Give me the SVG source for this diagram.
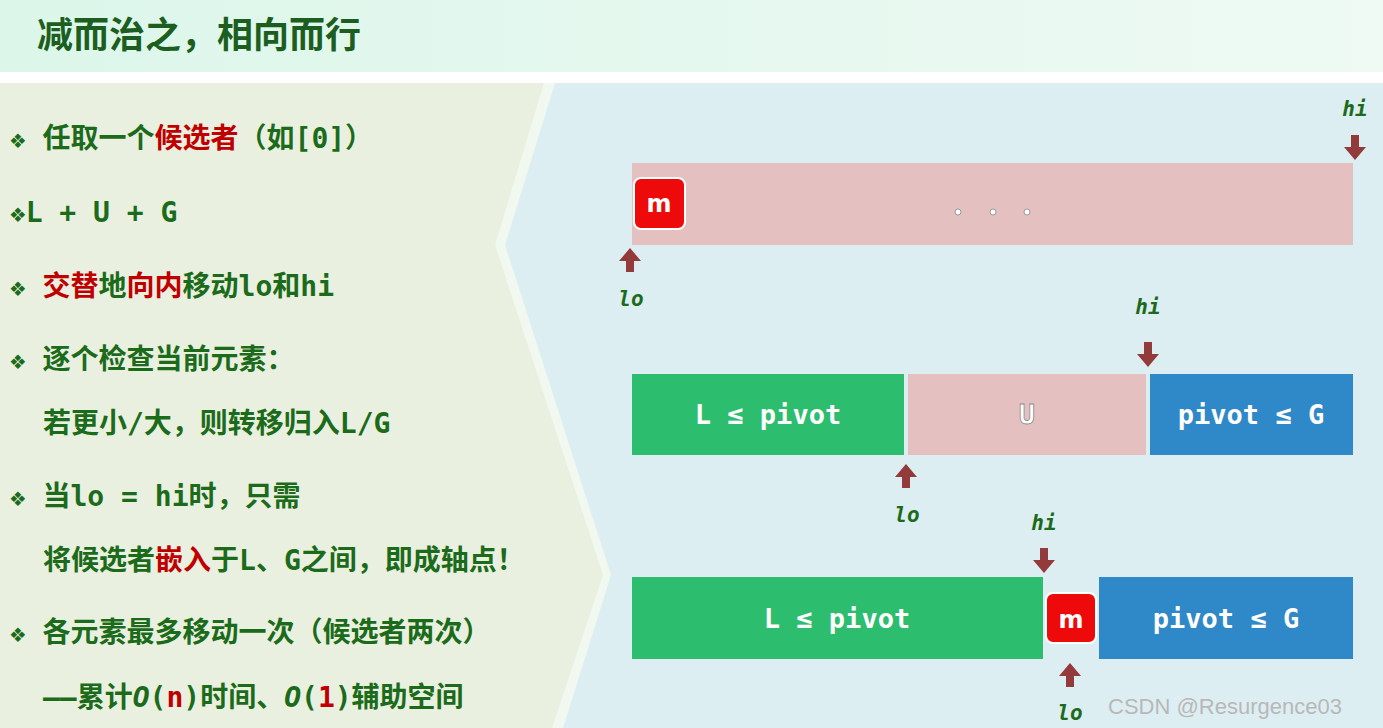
<svg xmlns="http://www.w3.org/2000/svg" width="1383" height="728" viewBox="0 0 1383 728">
<defs>
<linearGradient id="hd" x1="0" x2="1" y1="0" y2="0"><stop offset="0" stop-color="#dcf6ea"/><stop offset="1" stop-color="#eefaf3"/></linearGradient>
<style>
.t{font-family:"DejaVu Sans Mono","Noto Sans CJK SC",monospace;font-weight:bold;font-size:28px;fill:#1b6b1b}
.r{fill:#c00000}
.bl{font-size:26px}
.b{font-family:"DejaVu Sans Mono","Noto Sans CJK SC",monospace;font-weight:bold;font-size:27px;fill:#fff;text-anchor:middle}
.v{font-family:"DejaVu Sans Mono",monospace;font-weight:bold;font-style:italic;font-size:21px;fill:#1b6b1b;text-anchor:middle}
.ar{fill:#933a3a}
.m{fill:#ee0a0a;stroke:#fff;stroke-width:2}
.mt{font-family:"DejaVu Sans",sans-serif;font-weight:bold;font-size:24px;fill:#fff;text-anchor:middle}
</style>
</defs>
<rect width="1383" height="728" fill="#fff"/>
<rect width="1383" height="72" fill="url(#hd)"/>
<text x="37" y="48" font-family="Noto Sans CJK SC,sans-serif" font-weight="bold" font-size="36" fill="#1b5e20">减而治之，相向而行</text>
<rect x="0" y="83" width="1383" height="645" fill="#eaf0e0"/>
<polygon points="544,83 1383,83 1383,728 552,728 603,575 495,245" fill="#f0f8ef"/>
<polygon points="555,83 1383,83 1383,728 563,728 611,575 505,245" fill="#ddeef2"/>
<g id="text">
<text class="t" x="10" y="148"><tspan class="bl">❖</tspan> 任取一个<tspan class="r">候选者</tspan>（如[0]）</text>
<text class="t" x="10" y="222"><tspan class="bl">❖</tspan>L + U + G</text>
<text class="t" x="10" y="296"><tspan class="bl">❖</tspan> <tspan class="r">交替</tspan>地<tspan class="r">向内</tspan>移动lo和hi</text>
<text class="t" x="10" y="369"><tspan class="bl">❖</tspan> 逐个检查当前元素：</text>
<text class="t" x="43" y="433">若更小/大，则转移归入L/G</text>
<text class="t" x="10" y="506"><tspan class="bl">❖</tspan> 当lo = hi时，只需</text>
<text class="t" x="43" y="570">将候选者<tspan class="r">嵌入</tspan>于L、G之间，即成轴点！</text>
<text class="t" x="10" y="642"><tspan class="bl">❖</tspan> 各元素最多移动一次（候选者两次）</text>
<text class="t" x="43" y="707">——累计<tspan font-style="italic">O</tspan>(<tspan class="r">n</tspan>)时间、<tspan font-style="italic">O</tspan>(<tspan class="r">1</tspan>)辅助空间</text>
</g>
<g id="row1">
<rect x="632" y="163" width="721" height="82" fill="#e4c1c0"/>
<rect class="m" x="634" y="178" width="51" height="51" rx="7"/>
<text class="mt" x="659" y="212">m</text>
<g fill="#fff" stroke="#999" stroke-width="1"><circle cx="958" cy="212" r="3"/><circle cx="993" cy="212" r="3"/><circle cx="1027" cy="212" r="3"/></g>
</g>
<g id="row2">
<rect x="632" y="374" width="272" height="81" fill="#2dbd6e"/>
<text class="b" x="768" y="424">L ≤ pivot</text>
<rect x="908" y="374" width="238" height="81" fill="#e4c1c0"/>
<text class="b" x="1027" y="424" stroke="#888" stroke-width="0.8">U</text>
<rect x="1150" y="374" width="203" height="81" fill="#2f88c8"/>
<text class="b" x="1251" y="424">pivot ≤ G</text>
</g>
<g id="row3">
<rect x="632" y="577" width="411" height="82" fill="#2dbd6e"/>
<text class="b" x="837" y="628">L ≤ pivot</text>
<rect class="m" x="1046" y="593" width="50" height="50" rx="7"/>
<text class="mt" x="1071" y="628">m</text>
<rect x="1099" y="577" width="254" height="82" fill="#2f88c8"/>
<text class="b" x="1226" y="628">pivot ≤ G</text>
</g>
<g id="connectors">
<path class="ar" d="M1351,135h8v12h7l-11,13l-11,-13h7z"/>
<path class="ar" d="M626,272v-11h-7l11,-13l11,13h-7v11z"/>
<path class="ar" d="M1144,342h8v12h7l-11,13l-11,-13h7z"/>
<path class="ar" d="M902,488v-11h-7l11,-13l11,13h-7v11z"/>
<path class="ar" d="M1040,548h8v12h7l-11,13l-11,-13h7z"/>
<path class="ar" d="M1066,687v-11h-7l11,-13l11,13h-7v11z"/>
</g>
<g id="labels">
<text class="v" x="1355" y="116">hi</text>
<text class="v" x="631" y="306">lo</text>
<text class="v" x="1148" y="314">hi</text>
<text class="v" x="907" y="522">lo</text>
<text class="v" x="1044" y="530">hi</text>
<text class="v" x="1070" y="720">lo</text>
</g>
<text x="1108" y="714" font-family="Liberation Sans,sans-serif" font-size="22" fill="#b8b8b8">CSDN @Resurgence03</text>
</svg>
